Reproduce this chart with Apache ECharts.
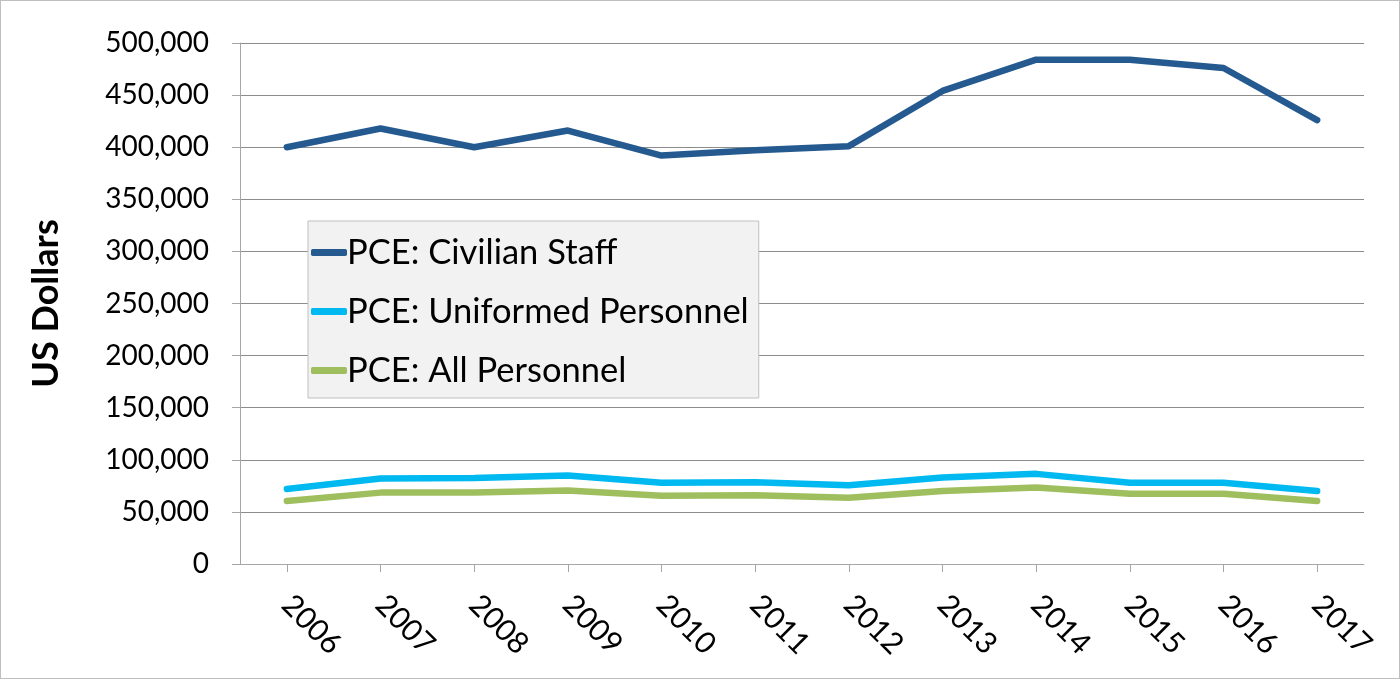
<!DOCTYPE html>
<html>
<head>
<meta charset="utf-8">
<script src="https://cdn.jsdelivr.net/npm/echarts@6/dist/echarts.min.js"></script>
<style>
  html, body { margin: 0; padding: 0; background: #fff; }
  #main { width: 1400px; height: 679px; box-sizing: border-box; border: 1px solid #bfbfbf; }
</style>
</head>
<body>
<div id="main"></div>
<script>
const years = ['2006', '2007', '2008', '2009', '2010', '2011', '2012', '2013', '2014', '2015', '2016', '2017'];
const civilianStaff = [400000, 418000, 400000, 416000, 392000, 397000, 401000, 454000, 484000, 484000, 476000, 426000];
const uniformedPersonnel = [72000, 82000, 82500, 85000, 78000, 78500, 75500, 83000, 86500, 78000, 78000, 70000];
const allPersonnel = [60500, 68500, 68500, 70500, 65500, 66000, 63500, 70000, 73500, 67500, 67500, 60500];

const FONT = 'Lato';

var chartDom = document.getElementById('main');
var myChart = echarts.init(chartDom);
var option;

function lineSeries(name, data, color) {
  return {
    name: name,
    type: 'line',
    data: data,
    symbol: 'none',
    color: color,
    lineStyle: { width: 6.5, color: color, cap: 'round', join: 'round' },
    animation: false
  };
}

option = {
  textStyle: { fontFamily: FONT },
  grid: { left: 239, right: 35, top: 42, bottom: 114 },
  legend: {
    orient: 'vertical',
    left: 307,
    top: 220,
    padding: [14, 10, 10, 3],
    backgroundColor: '#f2f2f2',
    borderColor: '#bfbfbf',
    borderWidth: 1,
    itemWidth: 36,
    itemHeight: 7,
    itemGap: 24,
    icon: 'roundRect',
    textStyle: { fontSize: 34.5, color: '#000', fontFamily: FONT, padding: [0, 0, 0, -5] },
    data: ['PCE: Civilian Staff', 'PCE: Uniformed Personnel', 'PCE: All Personnel']
  },
  xAxis: {
    type: 'category',
    data: years,
    boundaryGap: true,
    axisLine: { lineStyle: { color: '#a6a6a6', width: 1 } },
    axisTick: { show: true, length: 8, alignWithLabel: true, lineStyle: { color: '#a6a6a6' } },
    axisLabel: { rotate: -45, fontSize: 30, color: '#000', margin: 36, fontFamily: FONT },
    splitLine: { show: false }
  },
  yAxis: {
    type: 'value',
    min: 0,
    max: 500000,
    interval: 50000,
    name: 'US Dollars',
    nameLocation: 'middle',
    nameGap: 176,
    nameRotate: 90,
    nameTextStyle: { fontSize: 36, fontWeight: 'bold', color: '#000', fontFamily: FONT },
    axisLine: { show: true, lineStyle: { color: '#a6a6a6', width: 1 } },
    axisTick: { show: true, inside: false, length: 8, lineStyle: { color: '#a6a6a6' } },
    axisLabel: { fontSize: 28, color: '#000', margin: 31, fontFamily: FONT },
    splitLine: { lineStyle: { color: '#8c8c8c', width: 1 } }
  },
  series: [
    lineSeries('PCE: Civilian Staff', civilianStaff, '#245a8f'),
    lineSeries('PCE: Uniformed Personnel', uniformedPersonnel, '#00b9f1'),
    lineSeries('PCE: All Personnel', allPersonnel, '#9fbf5e')
  ]
};

option && myChart.setOption(option);
</script>
</body>
</html>
